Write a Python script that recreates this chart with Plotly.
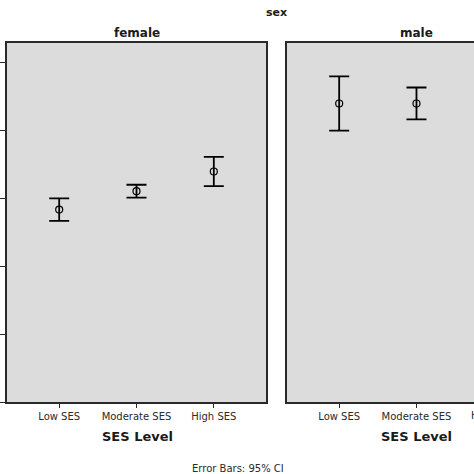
import plotly.graph_objects as go

categories = ["Low SES", "Moderate SES", "High SES"]
female_means = [2.83, 3.10, 3.39]
female_ci = [0.165, 0.095, 0.215]
male_means = [4.39, 4.39, 4.30]
male_ci = [0.40, 0.235, 0.30]

W, H = 474, 474
FONT = "DejaVu Sans"
frame = "#2a2a2a"
bg = "#dcdcdc"

def px(v):
    return v / W

def py(v):
    return (H - v) / H

fig = go.Figure()
for means, ci, xa, ya in [(female_means, female_ci, "x", "y"), (male_means, male_ci, "x2", "y2")]:
    fig.add_trace(go.Scatter(
        x=list(range(len(categories))), y=means, mode="markers",
        marker=dict(symbol="circle-open", size=7, color="black", line=dict(width=1.2)),
        error_y=dict(type="data", array=ci, symmetric=True, color="black", thickness=1.8, width=10),
        xaxis=xa, yaxis=ya, showlegend=False, cliponaxis=False,
    ))

yrange = [0, (402 - 43) / 68]
xfull = [-0.675, 2.675]
xright = [-0.675, -0.675 + (W - 287) / 77.3]

common_x = dict(tickmode="array", tickvals=list(range(len(categories))), ticktext=categories,
                ticks="outside", ticklen=4, tickwidth=1.2, tickcolor=frame,
                showline=True, linecolor=frame, linewidth=1.5, showgrid=False, zeroline=False,
                tickfont=dict(family=FONT, size=10, color="#2a2a2a"))

def ann(text, x, y, size, color="#1a1a1a"):
    return dict(text=text, x=px(x), y=py(y), xref="paper", yref="paper", showarrow=False,
                xanchor="center", yanchor="middle", font=dict(family=FONT, size=size, color=color))

fig.update_layout(
    width=W, height=H, margin=dict(l=0, r=0, t=0, b=0),
    paper_bgcolor="white", plot_bgcolor=bg,
    xaxis=dict(domain=[px(7), px(266)], range=xfull, mirror=True, **common_x),
    xaxis2=dict(domain=[px(287), 1.0], range=xright, mirror=True, anchor="y2", **common_x),
    yaxis=dict(domain=[py(402), py(43)], range=yrange, tickmode="linear", tick0=0, dtick=1,
               ticks="outside", ticklen=7, tickwidth=1.2, tickcolor=frame, showticklabels=False,
               showline=True, linecolor=frame, linewidth=1.5, mirror=True, showgrid=False, zeroline=False),
    yaxis2=dict(domain=[py(402), py(43)], range=yrange, anchor="x2", showticklabels=False, ticks="",
                showline=True, linecolor=frame, linewidth=1.5, mirror=False, showgrid=False, zeroline=False),
    annotations=[
        ann("<b>sex</b>", 276, 12.5, 11),
        ann("<b>female</b>", 137, 32.5, 12),
        ann("<b>male</b>", 416.5, 32.5, 12),
        ann("<b>SES Level</b>", 137, 436, 13),
        ann("<b>SES Level</b>", 416.5, 436, 13),
        ann("High SES", 494, 415, 10, "#2a2a2a"),
        ann("Error Bars: 95% CI", 238, 468, 10, "#2a2a2a"),
    ],
)

fig.write_html("out.html", config={"displayModeBar": False},
               post_script="document.body.style.margin='0';document.body.style.overflow='hidden';")
